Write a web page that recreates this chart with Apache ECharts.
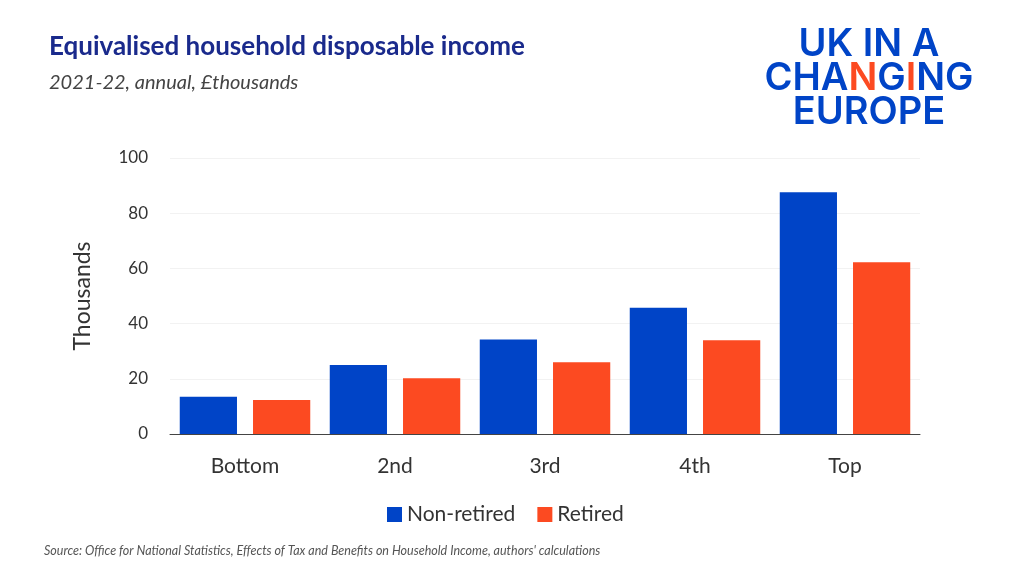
<!DOCTYPE html>
<html>
<head>
<meta charset="utf-8">
<script src="https://cdn.jsdelivr.net/npm/echarts@6/dist/echarts.min.js"></script>
<style>
  html, body { margin: 0; padding: 0; background: #fff; }
  #chart { width: 1024px; height: 576px; }
</style>
</head>
<body>
<div id="chart"></div>
<script>
// quintiles of household income
const categories = ["Bottom", "2nd", "3rd", "4th", "Top"];
const nonRetired = [13.5, 25, 34.2, 45.7, 87.6];
const retired = [12.3, 20.2, 26, 34, 62.2];
const yTicks = [0, 20, 40, 60, 80, 100];

const BLUE = "#0044c7";
const RED = "#fc4a21";
const FONT = "Lato, 'Open Sans', sans-serif";
const LOGO_FONT = "600 38px Inter, 'Noto Sans', sans-serif";

const chart = echarts.init(document.getElementById("chart"));

function logoLine(text, y, rich) {
  return {
    type: "text",
    x: 869,
    y: y,
    style: {
      text: text,
      font: LOGO_FONT,
      fill: BLUE,
      align: "center",
      verticalAlign: "middle",
      rich: rich,
    },
  };
}

const option = {
  backgroundColor: "#fff",
  animation: false,
  textStyle: { fontFamily: FONT },
  title: [
    {
      text: "Equivalised household disposable income",
      left: 44,
      top: 29,
      textStyle: { fontFamily: FONT, fontSize: 26, fontWeight: "bold", color: "#1a2a8c" },
    },
    {
      text: "2021-22, annual, £thousands",
      left: 44,
      top: 68,
      textStyle: { fontFamily: FONT, fontSize: 20, fontStyle: "italic", fontWeight: "normal", color: "#444" },
    },
  ],
  graphic: [
    logoLine("UK IN A", 45),
    logoLine("{b|CHA}{r|N}{b|G}{r|I}{b|NG}", 79, {
      b: { fill: BLUE, font: LOGO_FONT },
      r: { fill: RED, font: LOGO_FONT },
    }),
    logoLine("EUROPE", 113),
    {
      type: "text",
      left: 44,
      top: 544,
      style: {
        text: "Source: Office for National Statistics, Effects of Tax and Benefits on Household Income, authors' calculations",
        font: "italic 12.5px Lato, 'Open Sans', sans-serif",
        fill: "#555",
      },
    },
  ],
  legend: {
    data: ["Non-retired", "Retired"],
    bottom: 46,
    left: 382,
    icon: "rect",
    itemWidth: 15,
    itemHeight: 15,
    itemGap: 22,
    textStyle: { fontFamily: FONT, fontSize: 21, color: "#333" },
  },
  grid: {
    left: 170,
    right: 104,
    top: 158,
    bottom: 142,
  },
  xAxis: {
    type: "category",
    data: categories,
    axisLine: { show: true, lineStyle: { color: "#444", width: 1 } },
    axisTick: { show: false },
    axisLabel: { fontFamily: FONT, fontSize: 21, color: "#333", margin: 22 },
  },
  yAxis: {
    type: "value",
    min: yTicks[0],
    max: yTicks[yTicks.length - 1],
    interval: 20,
    name: "Thousands",
    nameLocation: "middle",
    nameGap: 76,
    nameTextStyle: { fontFamily: FONT, fontSize: 23, color: "#333" },
    axisLine: { show: false },
    axisTick: { show: false },
    axisLabel: { fontFamily: FONT, fontSize: 17, color: "#333", margin: 22 },
    splitLine: { lineStyle: { color: "#f2f2f2", width: 1 } },
  },
  series: [
    {
      name: "Non-retired",
      type: "bar",
      data: nonRetired,
      itemStyle: { color: BLUE },
      barGap: "28%",
      barCategoryGap: "13%",
    },
    {
      name: "Retired",
      type: "bar",
      data: retired,
      itemStyle: { color: RED },
    },
  ],
};

chart.setOption(option);
</script>
</body>
</html>
